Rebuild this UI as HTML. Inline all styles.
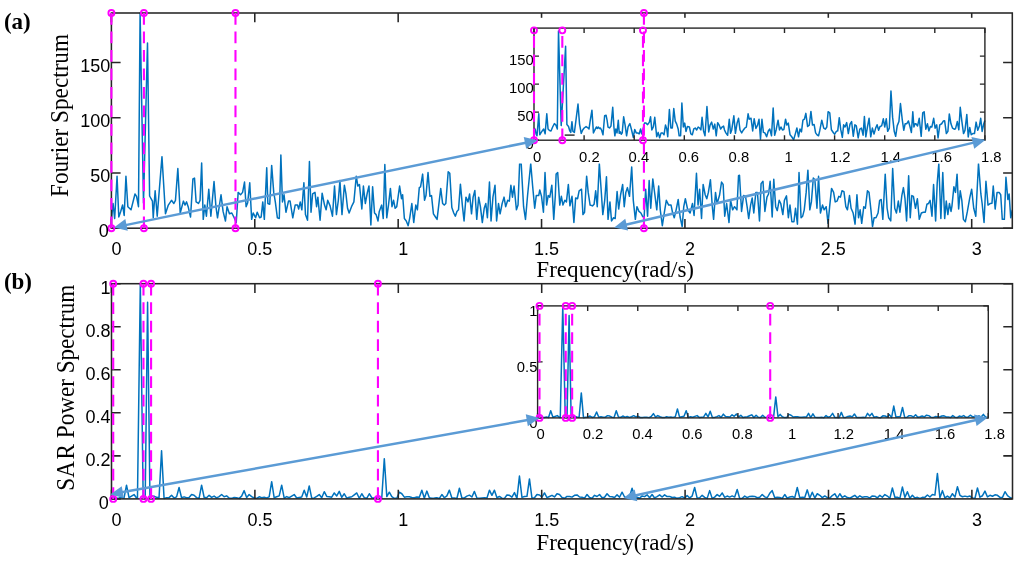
<!DOCTYPE html>
<html><head><meta charset="utf-8"><style>html,body{margin:0;padding:0;background:#fff;overflow:hidden}svg{display:block}</style></head><body>
<svg width="1025" height="567" viewBox="0 0 1025 567">
<rect width="1025" height="567" fill="#fff"/>
<polyline points="111.49,219.37 113.08,203.49 114.67,218.57 117.05,176.19 118.79,216.98 120.7,211.43 122.6,205.08 124.19,215.4 125.94,176.19 127.84,206.67 131.02,209.84 134.98,193.97 136.57,196.35 138.48,206.67 140.1,13 143.5,203 147.5,43 149.6,196 152.44,201.11 153.24,217.78 155.14,190.79 157.21,216.19 161.97,156.67 165.46,213.81 168.32,205.08 171.49,200.32 173.87,203.49 175.46,200.32 177.84,168.57 180.22,213.02 183.4,201.11 184.98,205.08 186.57,201.9 188.16,206.67 190.54,216.98 192.92,178.89 194.51,178.1 196.1,201.9 198.48,203.49 200.06,200.32 201.65,163.02 203.24,219.37 204.83,205.08 206.41,216.19 208.79,189.21 210.86,216.19 214.03,181.59 215.94,206.67 217.52,217.78 221.02,194.76 223.08,211.43 225.46,220.95 227.05,206.67 229.43,213.81 231.81,213.02 234.19,217.78 236.25,222.54 238.16,192.38 240.54,194.76 242.6,192.38 244.51,182.06 246.1,206.67 247.68,202.7 249.75,182.86 251.65,219.37 253.24,213.02 255.62,217.78 257.21,212.22 259.59,217.78 261.17,216.98 262.76,201.9 264.35,219.37 266.73,167.78 267.86,203.49 269.76,204.29 271.67,165.4 273.73,192.38 275.32,201.9 277.38,217.78 279.29,218.57 280.87,155.08 282.46,201.9 284.05,194.76 285.95,212.22 288.49,201.11 290.08,201.11 292.78,217.78 295.16,205.08 297.54,205.08 298.65,209.05 300.24,201.9 301.83,209.84 303.89,182.86 305.48,214.6 307.54,220.16 309.44,161.43 311.03,212.22 312.62,193.97 315,192.38 316.59,206.67 317.86,197.14 320.08,220.16 322.14,193.17 324.52,205.08 326.11,209.84 327.7,200.32 330.08,205.87 332.46,216.19 334.52,186.03 336.43,214.6 338.33,200.32 339.92,180.48 341.98,214.6 344.37,185.24 345.95,193.97 347.54,208.25 349.13,213.02 351.51,206.67 353.89,201.9 356.27,176.19 357.86,186.03 359.44,184.44 361.83,209.05 363.41,186.03 365.32,203.49 367.38,192.38 368.97,186.03 370.87,224.92 372.62,186.83 374.52,213.02 376.11,214.6 378.02,220.95 379.29,211.43 381.67,205.08 383.25,218.57 384.84,164.6 386.75,217.78 388.49,205.08 390.4,188.41 391.98,206.67 393.57,200.32 395.16,208.25 396.75,206.67 399.6,186.03 401.51,198.73 402.62,194.76 404.37,218.57 406.27,220.95 408.17,225.71 409.76,217.78 411.83,203.49 413.73,222.54 415.79,205.08 417.38,209.84 419.29,187.62 420.56,186.83 422.62,174.13 424.52,200.32 425.97,195.56 428.03,172.54 429.94,196.35 431.52,195.56 433.43,213.81 435.49,216.98 437.08,219.37 439.14,201.9 440.73,188.41 442.63,203.49 444.22,205.08 445.81,203.49 448.19,171.75 449.78,173.33 451.84,207.46 453.75,213.02 455.33,216.19 456.92,211.43 458.51,209.84 460.41,184.13 462.48,206.67 464.06,220.95 465.97,197.14 468.03,201.9 469.62,193.97 471.52,213.81 473.11,197.14 474.86,190.48 476.76,219.37 478.67,197.14 480.41,206.67 482.32,222.54 484.22,208.25 485.81,203.49 487.4,217.78 489.46,182.06 491.05,220.95 492.95,197.14 495.02,185.24 496.6,220.95 498.51,203.49 500.1,213.81 502.16,203.49 504.06,197.14 505.65,206.67 507.71,200.32 509.3,201.11 510.89,185.24 512.48,197.14 514.06,186.03 516.44,209.84 518.03,205.08 519.62,163.49 521.21,163.81 523.59,206.67 525.49,219.37 527.56,195.56 530.73,163.49 532.63,186.03 534.7,208.25 536.29,195.56 538.67,195.56 539.78,190 541.52,196.35 543.43,212.22 545.02,172.54 546.6,205.08 548.19,195.56 549.78,197.14 551.84,185.24 553.75,219.37 555.33,195.56 556.13,174.13 557.71,172.54 559.78,205.08 561.37,196.35 562.95,205.08 564.86,200.32 566.44,201.9 568.35,184.44 569.94,205.87 572,196.35 573.9,222.54 575.65,197.94 577.56,198.73 579.14,190.79 581.52,189.21 582.97,214.6 584.56,212.22 586.62,176.19 588.21,192.38 590.11,205.08 592.49,205.87 594.08,204.29 595.67,190.79 597.25,206.67 599.32,163.49 601.22,190.79 602.81,214.6 604.71,200.32 606.46,176.83 608.05,219.37 609.95,201.9 611.54,220.95 613.6,217.78 615.19,218.57 617.1,191.59 618.68,209.05 620.59,194.76 622.65,184.44 624.24,206.67 625.83,192.38 627.41,187.62 629.48,196.35 631.7,166.98 633.29,200.32 635.35,219.37 636.94,206.67 639,211.43 640.9,213.02 642.49,216.19 644.08,217.78 645.67,189.21 647.57,216.19 649.16,180.48 650.75,208.25 652.81,178.89 654.87,194.76 656.78,209.84 658.68,186.03 660.27,209.84 662.33,225.71 664.24,213.02 666.3,200.32 668.68,205.08 671.06,205.08 672.65,213.02 674.24,217.78 676.14,209.84 678.21,199.52 680.11,216.98 682.17,226.51 683.76,206.67 685.35,198.73 687.73,209.84 690.11,213.02 692.49,203.49 694.08,215.4 696.46,173.33 698.05,205.08 699.63,189.21 701.54,218.57 703.13,184.44 705.19,194.76 706.78,198.73 708.37,192.38 710.43,179.68 712.33,206.67 713.6,219.37 715.51,192.38 717.1,203.49 719.48,195.56 721.54,182.06 723.13,184.44 724.71,216.19 726.62,203.49 729,222.54 730.59,200.32 732.65,209.84 734.56,206.67 736.94,209.84 738.52,175.71 739.49,175.24 741.56,211.43 743.62,195.56 745.52,196.35 747.11,206.67 748.7,218.57 750.6,205.08 752.19,197.94 753.78,213.02 755.84,192.38 757.43,192.38 759.49,220.95 761.08,183.65 762.98,181.27 764.89,211.43 766.95,197.14 768.54,193.97 770.13,181.27 772.19,216.98 773.78,179.37 775.68,206.67 777.27,210.63 779.17,200.32 780.76,203.49 782.83,214.6 784.41,200.32 786.48,195.87 788.38,217.78 789.97,205.08 791.87,221.75 793.94,221.75 795.52,208.25 797.43,224.13 799.02,172.54 801.08,217.78 802.67,216.19 804.25,209.84 806.16,192.38 807.9,170.16 809.81,209.84 811.4,201.9 813.3,178.1 814.89,179.68 816.95,208.25 818.54,176.19 820.44,213.02 822.51,205.08 824.1,209.84 826.16,206.67 828.06,223.33 829.65,206.67 831.56,188.41 833.62,192.38 835.21,201.9 837.11,201.11 838.86,196.35 840.44,197.14 842.03,190.79 843.94,191.59 845.84,206.67 847.43,209.84 849.49,195.56 851.08,208.25 853.14,213.02 855.05,224.13 856.95,194.76 858.54,217.78 860.13,209.84 861.71,223.33 863.78,206.67 865.37,208.25 867.43,190.79 869.02,192.38 870.92,209.84 872.51,226.51 874.1,217.78 876,217.78 878.06,213.02 879.65,200.32 881.24,199.52 882.83,219.37 885.21,174.13 887.11,208.25 888.7,217.78 890.76,220.95 892.67,168.57 894.73,208.25 896.43,213.02 898.33,201.11 899.92,212.22 901.83,195.56 903.41,187.62 905,198.73 906.59,220.95 908.65,175.71 910.24,217.78 911.83,195.56 913.41,196.35 915.48,208.25 917.38,198.73 919.29,219.37 921.35,213.02 923.41,212.22 925.32,212.22 926.9,204.29 928.49,203.49 930.08,200.32 931.98,216.19 933.57,184.44 935.63,220.95 937.22,182.86 938.81,163.81 940.87,218.57 942.78,172.54 944.68,218.57 946.27,201.11 947.86,214.6 949.44,203.49 951.03,211.43 951.98,205.87 953.89,186.83 955.48,192.38 957.06,174.13 958.65,209.05 960.24,190.79 961.83,200.32 963.41,219.37 965.32,221.75 967.38,211.43 969.76,197.94 971.67,189.21 973.73,208.25 975.79,216.19 978.49,163.49 980.87,193.97 982.14,203.49 984.05,222.54 985.95,181.27 988.02,205.08 990.4,203.49 991.98,203.17 993.25,186.03 995.16,209.05 997.06,192.38 999.13,192.38 1000.71,194.76 1002.3,219.37 1004.37,219.37 1005.95,177.3 1007.86,199.52 1009.13,193.97 1010.71,217.78 1012.3,209.84" stroke="#0072BD" stroke-width="1.5" fill="none" stroke-linejoin="round"/>
<path d="M111.4 228.2V219M111.4 13V22.2M254.78 228.2V219M254.78 13V22.2M398.17 228.2V219M398.17 13V22.2M541.55 228.2V219M541.55 13V22.2M684.93 228.2V219M684.93 13V22.2M828.31 228.2V219M828.31 13V22.2M971.7 228.2V219M971.7 13V22.2M111.4 228.2H120.6M1012.3 228.2H1003.1M111.4 172.94H120.6M1012.3 172.94H1003.1M111.4 117.67H120.6M1012.3 117.67H1003.1M111.4 62.41H120.6M1012.3 62.41H1003.1" stroke="#262626" stroke-width="1.55" fill="none"/>
<rect x="111.4" y="13" width="900.9" height="215.2" stroke="#262626" stroke-width="1.55" fill="none"/>
<path d="M111.4 228.2V13" stroke="#FF00FF" stroke-width="2.1" stroke-dasharray="11.6 6.9" fill="none"/>
<circle cx="111.4" cy="13" r="3" stroke="#FF00FF" stroke-width="1.9" fill="none"/>
<circle cx="111.4" cy="228.2" r="3" stroke="#FF00FF" stroke-width="1.9" fill="none"/>
<path d="M143.92 228.2V13" stroke="#FF00FF" stroke-width="2.1" stroke-dasharray="11.6 6.9" fill="none"/>
<circle cx="143.92" cy="13" r="3" stroke="#FF00FF" stroke-width="1.9" fill="none"/>
<circle cx="143.92" cy="228.2" r="3" stroke="#FF00FF" stroke-width="1.9" fill="none"/>
<path d="M235.48 228.2V13" stroke="#FF00FF" stroke-width="2.1" stroke-dasharray="11.6 6.9" fill="none"/>
<circle cx="235.48" cy="13" r="3" stroke="#FF00FF" stroke-width="1.9" fill="none"/>
<circle cx="235.48" cy="228.2" r="3" stroke="#FF00FF" stroke-width="1.9" fill="none"/>
<text x="116.4" y="254.8" font-size="18" text-anchor="middle" font-family='"Liberation Sans", Arial, sans-serif' font-weight="normal" fill="#000">0</text>
<text x="259.78" y="254.8" font-size="18" text-anchor="middle" font-family='"Liberation Sans", Arial, sans-serif' font-weight="normal" fill="#000">0.5</text>
<text x="403.17" y="254.8" font-size="18" text-anchor="middle" font-family='"Liberation Sans", Arial, sans-serif' font-weight="normal" fill="#000">1</text>
<text x="546.55" y="254.8" font-size="18" text-anchor="middle" font-family='"Liberation Sans", Arial, sans-serif' font-weight="normal" fill="#000">1.5</text>
<text x="689.93" y="254.8" font-size="18" text-anchor="middle" font-family='"Liberation Sans", Arial, sans-serif' font-weight="normal" fill="#000">2</text>
<text x="833.31" y="254.8" font-size="18" text-anchor="middle" font-family='"Liberation Sans", Arial, sans-serif' font-weight="normal" fill="#000">2.5</text>
<text x="976.7" y="254.8" font-size="18" text-anchor="middle" font-family='"Liberation Sans", Arial, sans-serif' font-weight="normal" fill="#000">3</text>
<text x="108.7" y="237.3" font-size="18" text-anchor="end" font-family='"Liberation Sans", Arial, sans-serif' font-weight="normal" fill="#000">0</text>
<text x="110.4" y="182.04" font-size="18" text-anchor="end" font-family='"Liberation Sans", Arial, sans-serif' font-weight="normal" fill="#000">50</text>
<text x="110.4" y="126.77" font-size="18" text-anchor="end" font-family='"Liberation Sans", Arial, sans-serif' font-weight="normal" fill="#000">100</text>
<text x="110.4" y="71.51" font-size="18" text-anchor="end" font-family='"Liberation Sans", Arial, sans-serif' font-weight="normal" fill="#000">150</text>
<text x="615.2" y="276.5" font-size="23.1" text-anchor="middle" font-family='"Liberation Serif", "Times New Roman", serif' font-weight="normal" fill="#000">Frequency(rad/s)</text>
<text transform="translate(68.2 115.5) rotate(-90)" font-size="24.2" text-anchor="middle" textLength="163" lengthAdjust="spacingAndGlyphs" font-family='"Liberation Serif", "Times New Roman", serif' fill="#000">Fourier Spectrum</text>
<text x="3.9" y="28.6" font-size="23" font-family='"Liberation Serif", "Times New Roman", serif' font-weight="bold" fill="#000">(a)</text>
<rect x="505" y="17.8" width="493" height="145.7" fill="#fff"/>
<rect x="534" y="28.1" width="450.9" height="112.1" fill="#fff"/>
<path d="M564.7 135.1H574.6" stroke="#262626" stroke-width="1.4"/>
<polyline points="534.39,128 535.37,129.95 536.05,133.85 537.02,135.8 538.78,113.85 539.76,134.83 540.93,132.88 542.2,130.93 543.66,128.98 545.12,133.85 546.78,113.85 548.05,128.98 549.51,130.44 550.98,130.93 552.63,127.02 554.39,123.61 555.85,125.07 557.32,128.98 558.5,30.9 561.2,125.6 565.6,46.2 566.88,124.59 568.54,126.54 569.8,130.93 570.78,132.39 571.95,121.66 572.93,131.41 574.39,132.39 575.85,121.17 578,104.1 579.56,124.1 581.22,133.37 582.68,129.95 584.15,128 586.1,126.54 587.56,127.51 589.02,128.98 590.29,120.2 591.95,110.24 593.41,132.88 594.88,129.95 596.34,127.02 597.32,128.49 598.29,127.02 599.46,128.49 600.44,128 601.71,130.44 602.98,134.83 604.63,115.8 606.1,115.32 607.07,120.2 608.05,127.02 609.51,128 610.98,126.05 612.73,107.32 613.9,127.02 614.88,135.8 615.85,128.98 617.02,132.88 618.29,120.2 619.27,133.37 620.24,131.9 621.22,134.34 622.2,132.88 623.66,116.78 625.12,125.07 626.59,135.8 628.05,127.02 629.51,124.1 629.88,123.61 631.34,128.98 633.29,137.27 634.76,129.46 636.22,132.88 637.68,132.88 639.15,133.85 640.61,128.98 641.59,133.85 643.05,128.98 644.51,123.12 645.98,123.12 647.63,124.59 649.39,122.15 650.56,116.78 651.83,129.95 653.29,127.02 654.76,117.27 656.71,136.78 658.17,132.39 659.63,137.76 661.1,132.88 662.56,132.88 664.02,134.83 665.49,125.07 666.76,128.98 667.73,136.78 669.39,109.46 670.85,128 672.32,128 673.78,108.49 675.24,121.17 676.71,124.1 678.17,128.98 679.15,135.8 680.61,135.8 681.88,103.12 683.34,127.02 684.71,123.12 685.98,131.41 687.44,126.54 689.39,127.02 690.85,133.85 692.32,134.83 693.78,128.98 695.24,128 696.71,129.95 698.17,127.02 699.63,128 700.9,129.95 702.07,117.27 703.54,130.93 705,135.8 706.95,106.54 708.71,131.9 710.07,125.07 711.63,122.15 713.29,128.98 714.76,124.1 716.22,135.8 717.68,122.63 719.15,125.07 720.61,128.98 722.07,127.02 723.54,126.05 724.51,129.95 725.85,132.88 727.61,135.32 729.27,119.22 730.54,133.37 731.71,129.95 733.85,115.8 735.41,133.37 737.07,123.12 738.54,118.24 740,129.95 741.66,132.88 743.41,129.95 744.88,128 746.34,127.02 748.1,113.85 749.27,119.22 751.02,118.24 752.68,130.93 754.15,118.73 755.9,128.49 757.56,125.07 759.02,119.22 760.49,139.22 761.95,119.22 763.41,132.39 764.88,132.88 766.63,136.78 768.29,130.93 769.76,128.98 771.51,135.8 773.17,108 774.63,135.32 776.1,129.95 778.05,120.2 779.51,129.95 780.98,127.02 782.44,129.95 783.9,129.46 785.56,119.22 786.83,125.07 788.29,123.12 790.05,134.83 791.71,136.78 793.66,139.71 795.32,133.85 796.88,128 798.54,136.78 800,128.98 801.46,131.9 802.93,120.2 804.39,119.22 805.85,113.37 807.61,126.54 809.27,125.07 810.93,111.41 812.49,125.07 814.15,124.59 815.61,132.88 817.07,134.83 818.54,135.8 819.71,130.93 821.78,120.22 823.74,128.09 825.38,129.18 826.8,126.99 828.11,111.69 829.75,112.79 831.39,129.73 833.58,133.01 834.67,134.1 836.31,131.37 837.73,130.82 839.26,117.7 840.68,129.18 842.32,137.38 843.63,124.81 845.05,126.99 846.69,122.62 848.33,133.55 849.97,124.26 851.61,121.53 853.25,136.28 854.89,124.81 856.31,125.9 858.17,137.92 859.81,129.18 861.45,128.09 863.09,135.19 864.4,116.61 865.82,136.83 867.46,126.99 869.1,118.25 870.74,136.83 872.38,128.09 874.02,134.1 875.66,128.09 877.08,124.81 878.61,130.27 880.03,126.45 881.67,125.9 883.31,118.8 884.73,126.99 886.26,118.8 887.68,131.37 889.32,128.09 890.96,90.93 892.6,117.16 894.23,131.37 895.66,136.28 897.19,125.9 898.93,121.53 900.46,103.5 902.21,119.34 903.74,130.27 905.16,123.72 906.8,123.72 908.44,120.98 910.08,126.99 911.39,132.46 912.81,111.69 913.91,126.99 915,123.72 915.94,123.76 917.58,125.95 919.22,118.29 921.19,136.35 922.72,112.82 924.15,111.73 925.79,129.23 927.43,123.76 928.85,130.88 930.38,126.5 931.81,127.05 933.67,118.29 935.09,128.14 936.73,124.86 938.04,137.99 939.79,124.86 941.65,123.76 943.29,121.03 944.61,120.7 946.36,133.61 947.89,131.42 949.31,113.92 950.95,123.76 952.59,128.14 954.23,129.23 955.55,128.69 957.3,121.58 958.83,129.78 960.25,107.35 961.89,121.58 963.53,133.61 964.96,130.33 966.82,114.46 968.24,136.89 969.77,127.59 971.19,134.7 972.83,133.61 974.47,133.61 976.12,122.12 977.76,130.33 979.4,125.95 980.71,118.29 982.13,131.42 983.77,123.76 984.87,120.48" stroke="#0072BD" stroke-width="1.5" fill="none" stroke-linejoin="round"/>
<path d="M534 140.2V135.2M534 28.1V33.1M584.1 140.2V135.2M584.1 28.1V33.1M634.2 140.2V135.2M634.2 28.1V33.1M684.3 140.2V135.2M684.3 28.1V33.1M734.4 140.2V135.2M734.4 28.1V33.1M784.5 140.2V135.2M784.5 28.1V33.1M834.6 140.2V135.2M834.6 28.1V33.1M884.7 140.2V135.2M884.7 28.1V33.1M934.8 140.2V135.2M934.8 28.1V33.1M984.9 140.2V135.2M984.9 28.1V33.1M534 140.2H539M984.9 140.2H979.9M534 112.17H539M984.9 112.17H979.9M534 84.15H539M984.9 84.15H979.9M534 56.12H539M984.9 56.12H979.9" stroke="#262626" stroke-width="1.4" fill="none"/>
<rect x="534" y="28.1" width="450.9" height="112.1" stroke="#262626" stroke-width="1.4" fill="none"/>
<text x="537.1" y="161.7" font-size="14.8" text-anchor="middle" font-family='"Liberation Sans", Arial, sans-serif' font-weight="normal" fill="#000">0</text>
<text x="589.4" y="161.7" font-size="14.8" text-anchor="middle" font-family='"Liberation Sans", Arial, sans-serif' font-weight="normal" fill="#000">0.2</text>
<text x="638.9" y="161.7" font-size="14.8" text-anchor="middle" font-family='"Liberation Sans", Arial, sans-serif' font-weight="normal" fill="#000">0.4</text>
<text x="688.8" y="161.7" font-size="14.8" text-anchor="middle" font-family='"Liberation Sans", Arial, sans-serif' font-weight="normal" fill="#000">0.6</text>
<text x="738.9" y="161.7" font-size="14.8" text-anchor="middle" font-family='"Liberation Sans", Arial, sans-serif' font-weight="normal" fill="#000">0.8</text>
<text x="788.7" y="161.7" font-size="14.8" text-anchor="middle" font-family='"Liberation Sans", Arial, sans-serif' font-weight="normal" fill="#000">1</text>
<text x="840.2" y="161.7" font-size="14.8" text-anchor="middle" font-family='"Liberation Sans", Arial, sans-serif' font-weight="normal" fill="#000">1.2</text>
<text x="890.7" y="161.7" font-size="14.8" text-anchor="middle" font-family='"Liberation Sans", Arial, sans-serif' font-weight="normal" fill="#000">1.4</text>
<text x="941.6" y="161.7" font-size="14.8" text-anchor="middle" font-family='"Liberation Sans", Arial, sans-serif' font-weight="normal" fill="#000">1.6</text>
<text x="991.2" y="161.7" font-size="14.8" text-anchor="middle" font-family='"Liberation Sans", Arial, sans-serif' font-weight="normal" fill="#000">1.8</text>
<text x="533.8" y="148.7" font-size="14.8" text-anchor="end" font-family='"Liberation Sans", Arial, sans-serif' font-weight="normal" fill="#000">0</text>
<text x="533.8" y="120.67" font-size="14.8" text-anchor="end" font-family='"Liberation Sans", Arial, sans-serif' font-weight="normal" fill="#000">50</text>
<text x="533.8" y="92.65" font-size="14.8" text-anchor="end" font-family='"Liberation Sans", Arial, sans-serif' font-weight="normal" fill="#000">100</text>
<text x="533.8" y="64.62" font-size="14.8" text-anchor="end" font-family='"Liberation Sans", Arial, sans-serif' font-weight="normal" fill="#000">150</text>
<path d="M534 140.2V30.34" stroke="#FF00FF" stroke-width="2.1" stroke-dasharray="11.6 6.9" fill="none"/>
<circle cx="534" cy="30.34" r="3" stroke="#FF00FF" stroke-width="1.9" fill="none"/>
<circle cx="534" cy="140.2" r="3" stroke="#FF00FF" stroke-width="1.9" fill="none"/>
<path d="M562.31 140.2V30.34" stroke="#FF00FF" stroke-width="2.1" stroke-dasharray="11.6 6.9" fill="none"/>
<circle cx="562.31" cy="30.34" r="3" stroke="#FF00FF" stroke-width="1.9" fill="none"/>
<circle cx="562.31" cy="140.2" r="3" stroke="#FF00FF" stroke-width="1.9" fill="none"/>
<path d="M642.97 140.2V30.34" stroke="#FF00FF" stroke-width="2.1" stroke-dasharray="11.6 6.9" fill="none"/>
<circle cx="642.97" cy="30.34" r="3" stroke="#FF00FF" stroke-width="1.9" fill="none"/>
<circle cx="642.97" cy="140.2" r="3" stroke="#FF00FF" stroke-width="1.9" fill="none"/>
<path d="M643.92 228.2V13" stroke="#FF00FF" stroke-width="2.1" stroke-dasharray="11.6 6.9" fill="none"/>
<circle cx="643.92" cy="13" r="3" stroke="#FF00FF" stroke-width="1.9" fill="none"/>
<circle cx="643.92" cy="228.2" r="3" stroke="#FF00FF" stroke-width="1.9" fill="none"/>
<path d="M125.56 225.12L525.94 142.68" stroke="#5B9BD5" stroke-width="2.5" fill="none"/>
<path d="M114 227.5L127.75 230.8L125.33 219.04Z" fill="#5B9BD5"/>
<path d="M537.5 140.3L526.17 148.76L523.75 137Z" fill="#5B9BD5"/>
<path d="M625.68 224.79L973.82 142.61" stroke="#5B9BD5" stroke-width="2.5" fill="none"/>
<path d="M614.2 227.5L628.04 230.4L625.28 218.72Z" fill="#5B9BD5"/>
<path d="M985.3 139.9L974.22 148.68L971.46 137Z" fill="#5B9BD5"/>
<polyline points="111.5,498.14 114,497.65 116.51,498.18 119.01,498.06 121.51,497.27 124.01,498.19 126.52,485.16 129.02,497.65 131.52,496.09 134.03,494.53 136.53,497.96 137.46,498.04 140.32,283.7 143.19,498.25 145.2,498.47 147.58,302.21 149.93,498.04 151.54,496.29 154.05,496.22 156.55,497.32 159.05,497.65 161.56,450.82 164.06,498.41 166.56,497.8 169.06,497.64 171.57,495.31 174.07,497.96 176.57,496.87 179.07,487.5 181.58,497.75 184.08,496.87 186.58,497.67 189.09,497.51 191.59,494.53 194.09,495.31 196.59,497.65 199.1,498.15 201.6,485.16 204.1,497.23 206.61,497.8 209.11,495.31 211.61,497.43 214.11,496.09 216.62,497.92 219.12,496.55 221.62,494.53 224.12,496.78 226.63,495.87 229.13,498.05 231.63,498.33 234.14,497.41 236.64,497.83 239.14,498.39 241.64,496.09 244.15,490.63 246.65,497.61 249.15,494.53 251.66,496.61 254.16,498 256.66,498.32 259.16,496.79 261.67,497.65 264.17,497.34 266.67,497.89 269.17,496.84 271.68,481.73 274.18,497.78 276.68,496.81 279.19,495.85 281.69,485.16 284.19,498.16 286.69,496.61 289.2,497.72 291.7,496.02 294.2,494.53 296.71,498.01 299.21,497.52 301.71,497.02 304.21,490.16 306.72,497.05 309.22,485.94 311.72,498.15 314.23,497.91 316.73,496.41 319.23,494.53 321.73,497.8 324.24,491.72 326.74,496.44 329.24,496.81 331.74,497.24 334.25,492.97 336.75,495.92 339.25,491.41 341.76,497.38 344.26,493.75 346.76,498.23 349.26,497.15 351.77,496.78 354.27,494.84 356.77,492.97 359.28,498.28 361.78,493.75 364.28,497.63 366.78,498.31 369.29,493.75 371.79,497.62 374.29,497.93 376.79,497.12 379.3,498.43 381.8,497.33 384.3,458.63 386.81,496.58 389.31,492.19 391.81,496.69 394.31,498.3 396.82,498.28 399.32,492.19 401.82,493.75 404.32,497.14 406.83,496.84 409.33,496.83 411.83,497.45 414.34,497.65 416.84,497.01 419.34,497.36 421.84,490.16 424.35,498.29 426.85,491.09 429.35,497.73 431.86,498.24 434.36,498.11 436.86,497.73 439.36,498.47 441.87,494.53 444.37,497.74 446.87,495.87 449.38,490.16 451.88,497.92 454.38,497.99 456.88,498.45 459.39,488.28 461.89,498.04 464.39,497.97 466.89,496.09 469.4,495.16 471.9,497.02 474.4,491.41 476.91,497.96 479.41,498.16 481.91,497.91 484.41,497.62 486.92,498.11 489.42,490.16 491.92,495.33 494.43,490.16 496.93,497.75 499.43,496.4 501.93,498.18 504.44,498.39 506.94,494.95 509.44,495.31 511.94,497.17 514.45,492.66 516.95,498.38 519.45,476.11 521.96,497.36 524.46,496.54 526.96,496.27 529.46,478.92 531.97,498.03 534.47,497.66 536.97,494.53 539.47,495.01 541.98,497.06 544.48,492.97 546.98,497.59 549.49,496.54 551.99,495.31 554.49,496.93 556.99,493.75 559.5,494.53 562,497.44 564.5,498.29 567.01,496.4 569.51,496.49 572.01,497.12 574.51,495.31 577.02,494.92 579.52,496.99 582.02,497.29 584.53,498.13 587.03,494.53 589.53,497.56 592.03,498.18 594.54,495.31 597.04,496.5 599.54,494.53 602.04,497.68 604.55,497.23 607.05,493.75 609.55,496.57 612.06,496.83 614.56,497.51 617.06,494.84 619.56,497.26 622.07,492.19 624.57,497 627.07,497.48 629.57,496.42 632.08,488.28 634.58,496.45 637.08,497.19 639.59,498.24 642.09,495.92 644.59,496.65 647.09,494.84 649.6,497.69 652.1,494.53 654.6,497.94 657.11,496.54 659.61,494.84 662.11,497 664.61,494.84 667.12,496.59 669.62,496.4 672.12,497.51 674.62,497.15 677.13,498.32 679.63,497.65 682.13,496.63 684.64,498.13 687.14,495.5 689.64,497.97 692.14,496.08 694.65,487.5 697.15,498.06 699.65,497.68 702.16,495.31 704.66,497.39 707.16,498.37 709.66,490.63 712.17,498.39 714.67,497.13 717.17,494.53 719.68,496.39 722.18,492.97 724.68,497.33 727.18,496.05 729.69,497.07 732.19,495.94 734.69,497.09 737.19,489.53 739.7,498.45 742.2,498.22 744.7,496.09 747.21,497.71 749.71,496.4 752.21,496.16 754.71,496.4 757.22,497.78 759.72,497.18 762.22,494.53 764.73,496.84 767.23,497.75 769.73,493.28 772.23,490.63 774.74,497.7 777.24,497.17 779.74,497.45 782.24,498.46 784.75,494.53 787.25,498.26 789.75,496.95 792.26,496.45 794.76,497.64 797.26,487.5 799.76,497.74 802.27,497.3 804.77,497.47 807.27,489.85 809.77,498.32 812.28,492.19 814.78,498 817.28,493.75 819.79,495.31 822.29,497.64 824.79,495.96 827.29,497.53 829.8,498.11 832.3,495.59 834.8,493.75 837.31,498.09 839.81,493.75 842.31,497.46 844.81,495.78 847.32,497.61 849.82,498.05 852.32,496.75 854.82,495.31 857.33,497.89 859.83,495.78 862.33,497.31 864.84,496.78 867.34,496.87 869.84,497.86 872.34,495.96 874.85,496.2 877.35,497.86 879.85,495.34 882.36,497.27 884.86,494.53 887.36,496.03 889.86,498.31 892.37,487.97 894.87,497.3 897.37,497.3 899.88,498.35 902.38,487.04 904.88,497.4 907.38,491.72 909.89,498.22 912.39,495.31 914.89,498.01 917.39,497.32 919.9,498.34 922.4,497.37 924.9,497.38 927.41,495.03 929.91,497 932.41,494.53 934.91,495.12 937.42,473.46 939.92,497.85 942.42,490.63 944.93,497.92 947.43,496.09 949.93,497.8 952.43,493.75 954.94,497.14 957.44,486.72 959.94,495.31 962.44,496.76 964.95,496.13 967.45,496.66 969.95,496.09 972.46,498.09 974.96,498.23 977.46,487.97 979.96,497.21 982.47,495.73 984.97,491.09 987.47,496.93 989.98,495.31 992.48,496.27 994.98,494.84 997.48,495.31 999.99,497.42 1002.49,497.34 1004.99,491.72 1007.49,495.68 1010,497.5 1012.5,498.39" stroke="#0072BD" stroke-width="1.5" fill="none" stroke-linejoin="round"/>
<path d="M111.5 498.9V489.7M111.5 283.7V292.9M254.9 498.9V489.7M254.9 283.7V292.9M398.3 498.9V489.7M398.3 283.7V292.9M541.7 498.9V489.7M541.7 283.7V292.9M685.09 498.9V489.7M685.09 283.7V292.9M828.49 498.9V489.7M828.49 283.7V292.9M971.89 498.9V489.7M971.89 283.7V292.9M111.5 498.9H120.7M1012.5 498.9H1003.3M111.5 455.86H120.7M1012.5 455.86H1003.3M111.5 412.82H120.7M1012.5 412.82H1003.3M111.5 369.78H120.7M1012.5 369.78H1003.3M111.5 326.74H120.7M1012.5 326.74H1003.3M111.5 283.7H120.7M1012.5 283.7H1003.3" stroke="#262626" stroke-width="1.55" fill="none"/>
<rect x="111.5" y="283.7" width="901" height="215.2" stroke="#262626" stroke-width="1.55" fill="none"/>
<path d="M113.22 498.9V283.7" stroke="#FF00FF" stroke-width="2.1" stroke-dasharray="11.6 6.9" fill="none"/>
<circle cx="113.22" cy="283.7" r="3" stroke="#FF00FF" stroke-width="1.9" fill="none"/>
<circle cx="113.22" cy="498.9" r="3" stroke="#FF00FF" stroke-width="1.9" fill="none"/>
<path d="M143.48 498.9V283.7" stroke="#FF00FF" stroke-width="2.1" stroke-dasharray="11.6 6.9" fill="none"/>
<circle cx="143.48" cy="283.7" r="3" stroke="#FF00FF" stroke-width="1.9" fill="none"/>
<circle cx="143.48" cy="498.9" r="3" stroke="#FF00FF" stroke-width="1.9" fill="none"/>
<path d="M151.08 498.9V283.7" stroke="#FF00FF" stroke-width="2.1" stroke-dasharray="11.6 6.9" fill="none"/>
<circle cx="151.08" cy="283.7" r="3" stroke="#FF00FF" stroke-width="1.9" fill="none"/>
<circle cx="151.08" cy="498.9" r="3" stroke="#FF00FF" stroke-width="1.9" fill="none"/>
<path d="M377.93 498.9V283.7" stroke="#FF00FF" stroke-width="2.1" stroke-dasharray="11.6 6.9" fill="none"/>
<circle cx="377.93" cy="283.7" r="3" stroke="#FF00FF" stroke-width="1.9" fill="none"/>
<circle cx="377.93" cy="498.9" r="3" stroke="#FF00FF" stroke-width="1.9" fill="none"/>
<text x="116.5" y="525.5" font-size="18" text-anchor="middle" font-family='"Liberation Sans", Arial, sans-serif' font-weight="normal" fill="#000">0</text>
<text x="259.9" y="525.5" font-size="18" text-anchor="middle" font-family='"Liberation Sans", Arial, sans-serif' font-weight="normal" fill="#000">0.5</text>
<text x="403.3" y="525.5" font-size="18" text-anchor="middle" font-family='"Liberation Sans", Arial, sans-serif' font-weight="normal" fill="#000">1</text>
<text x="546.7" y="525.5" font-size="18" text-anchor="middle" font-family='"Liberation Sans", Arial, sans-serif' font-weight="normal" fill="#000">1.5</text>
<text x="690.09" y="525.5" font-size="18" text-anchor="middle" font-family='"Liberation Sans", Arial, sans-serif' font-weight="normal" fill="#000">2</text>
<text x="833.49" y="525.5" font-size="18" text-anchor="middle" font-family='"Liberation Sans", Arial, sans-serif' font-weight="normal" fill="#000">2.5</text>
<text x="976.89" y="525.5" font-size="18" text-anchor="middle" font-family='"Liberation Sans", Arial, sans-serif' font-weight="normal" fill="#000">3</text>
<text x="108.8" y="508.7" font-size="18" text-anchor="end" font-family='"Liberation Sans", Arial, sans-serif' font-weight="normal" fill="#000">0</text>
<text x="110.5" y="465.66" font-size="18" text-anchor="end" font-family='"Liberation Sans", Arial, sans-serif' font-weight="normal" fill="#000">0.2</text>
<text x="110.5" y="422.62" font-size="18" text-anchor="end" font-family='"Liberation Sans", Arial, sans-serif' font-weight="normal" fill="#000">0.4</text>
<text x="110.5" y="379.58" font-size="18" text-anchor="end" font-family='"Liberation Sans", Arial, sans-serif' font-weight="normal" fill="#000">0.6</text>
<text x="110.5" y="336.54" font-size="18" text-anchor="end" font-family='"Liberation Sans", Arial, sans-serif' font-weight="normal" fill="#000">0.8</text>
<text x="110.5" y="293.5" font-size="18" text-anchor="end" font-family='"Liberation Sans", Arial, sans-serif' font-weight="normal" fill="#000">1</text>
<text x="615.2" y="549.5" font-size="23.1" text-anchor="middle" font-family='"Liberation Serif", "Times New Roman", serif' font-weight="normal" fill="#000">Frequency(rad/s)</text>
<text transform="translate(73.5 387.7) rotate(-90)" font-size="24.2" text-anchor="middle" textLength="206" lengthAdjust="spacingAndGlyphs" font-family='"Liberation Serif", "Times New Roman", serif' fill="#000">SA<tspan dx="1.8">R</tspan> Power Spectrum</text>
<text x="3.9" y="289" font-size="23" font-family='"Liberation Serif", "Times New Roman", serif' font-weight="bold" fill="#000">(b)</text>
<rect x="537.6" y="305.9" width="450.7" height="112" fill="#fff"/>
<polyline points="537.6,417.5 539.79,417.25 541.97,417.52 544.16,417.46 546.34,417.05 548.53,417.53 550.71,410.75 552.9,417.25 555.08,416.44 557.27,415.63 559.45,417.41 560.26,417.45 562.76,305.9 565.27,417.56 567.02,417.68 569.1,315.53 571.15,417.45 572.56,416.54 574.75,416.5 576.93,417.08 579.12,417.25 581.3,392.88 583.49,417.65 585.67,417.33 587.86,417.24 590.04,416.03 592.23,417.41 594.41,416.84 596.6,411.97 598.78,417.3 600.97,416.84 603.15,417.26 605.34,417.18 607.52,415.63 609.71,416.03 611.89,417.25 614.08,417.51 616.26,410.75 618.45,417.03 620.63,417.33 622.82,416.03 625,417.13 627.19,416.44 629.37,417.39 631.56,416.67 633.74,415.63 635.93,416.8 638.11,416.32 640.3,417.46 642.48,417.6 644.67,417.13 646.85,417.34 649.04,417.63 651.22,416.44 653.41,413.59 655.59,417.23 657.78,415.63 659.96,416.71 662.15,417.43 664.33,417.6 666.52,416.8 668.7,417.25 670.89,417.09 673.07,417.37 675.26,416.83 677.44,408.96 679.63,417.32 681.81,416.81 684,416.31 686.18,410.75 688.37,417.52 690.55,416.71 692.74,417.29 694.92,416.4 697.11,415.63 699.29,417.44 701.48,417.18 703.66,416.92 705.85,413.35 708.03,416.94 710.22,411.16 712.4,417.51 714.59,417.38 716.77,416.6 718.96,415.63 721.14,417.33 723.33,414.16 725.51,416.62 727.7,416.81 729.88,417.03 732.07,414.81 734.25,416.35 736.44,414 738.63,417.11 740.81,415.22 743,417.55 745.18,416.99 747.37,416.79 749.55,415.79 751.74,414.81 753.92,417.58 756.11,415.22 758.29,417.24 760.48,417.6 762.66,415.22 764.85,417.23 767.03,417.4 769.22,416.98 771.4,417.66 773.59,417.08 775.77,396.94 777.96,416.69 780.14,414.41 782.33,416.75 784.51,417.59 786.7,417.58 788.88,414.41 791.07,415.22 793.25,416.99 795.44,416.83 797.62,416.82 799.81,417.15 801.99,417.25 804.18,416.92 806.36,417.1 808.55,413.35 810.73,417.58 812.92,413.84 815.1,417.29 817.29,417.56 819.47,417.49 821.66,417.29 823.84,417.68 826.03,415.63 828.21,417.3 830.4,416.32 832.58,413.35 834.77,417.39 836.95,417.43 839.14,417.67 841.32,412.38 843.51,417.45 845.69,417.42 847.88,416.44 850.06,415.95 852.25,416.92 854.43,414 856.62,417.41 858.8,417.52 860.99,417.39 863.17,417.24 865.36,417.49 867.54,413.35 869.73,416.04 871.91,413.35 874.1,417.3 876.28,416.6 878.47,417.52 880.65,417.63 882.84,415.84 885.02,416.03 887.21,417 889.39,414.65 891.58,417.63 893.76,406.04 895.95,417.1 898.13,416.67 900.32,416.53 902.5,407.5 904.69,417.45 906.87,417.26 909.06,415.63 911.24,415.87 913.43,416.94 915.61,414.81 917.8,417.22 919.98,416.67 922.17,416.03 924.35,416.87 926.54,415.22 928.72,415.63 930.91,417.14 933.1,417.58 935.28,416.6 937.47,416.65 939.65,416.97 941.84,416.03 944.02,415.83 946.21,416.91 948.39,417.06 950.58,417.5 952.76,415.63 954.95,417.2 957.13,417.53 959.32,416.03 961.5,416.65 963.69,415.63 965.87,417.26 968.06,417.03 970.24,415.22 972.43,416.69 974.61,416.82 976.8,417.17 978.98,415.79 981.17,417.05 983.35,414.41 985.54,416.91 987.72,417.16" stroke="#0072BD" stroke-width="1.5" fill="none" stroke-linejoin="round"/>
<path d="M537.6 417.9V412.9M537.6 305.9V310.9M587.68 417.9V412.9M587.68 305.9V310.9M637.76 417.9V412.9M637.76 305.9V310.9M687.83 417.9V412.9M687.83 305.9V310.9M737.91 417.9V412.9M737.91 305.9V310.9M787.99 417.9V412.9M787.99 305.9V310.9M838.07 417.9V412.9M838.07 305.9V310.9M888.14 417.9V412.9M888.14 305.9V310.9M938.22 417.9V412.9M938.22 305.9V310.9M988.3 417.9V412.9M988.3 305.9V310.9M537.6 417.9H542.6M988.3 417.9H983.3M537.6 361.9H542.6M988.3 361.9H983.3M537.6 305.9H542.6M988.3 305.9H983.3" stroke="#262626" stroke-width="1.4" fill="none"/>
<rect x="537.6" y="305.9" width="450.7" height="112" stroke="#262626" stroke-width="1.4" fill="none"/>
<text x="540.7" y="439.4" font-size="14.8" text-anchor="middle" font-family='"Liberation Sans", Arial, sans-serif' font-weight="normal" fill="#000">0</text>
<text x="592.98" y="439.4" font-size="14.8" text-anchor="middle" font-family='"Liberation Sans", Arial, sans-serif' font-weight="normal" fill="#000">0.2</text>
<text x="642.46" y="439.4" font-size="14.8" text-anchor="middle" font-family='"Liberation Sans", Arial, sans-serif' font-weight="normal" fill="#000">0.4</text>
<text x="692.33" y="439.4" font-size="14.8" text-anchor="middle" font-family='"Liberation Sans", Arial, sans-serif' font-weight="normal" fill="#000">0.6</text>
<text x="742.41" y="439.4" font-size="14.8" text-anchor="middle" font-family='"Liberation Sans", Arial, sans-serif' font-weight="normal" fill="#000">0.8</text>
<text x="792.19" y="439.4" font-size="14.8" text-anchor="middle" font-family='"Liberation Sans", Arial, sans-serif' font-weight="normal" fill="#000">1</text>
<text x="843.67" y="439.4" font-size="14.8" text-anchor="middle" font-family='"Liberation Sans", Arial, sans-serif' font-weight="normal" fill="#000">1.2</text>
<text x="894.14" y="439.4" font-size="14.8" text-anchor="middle" font-family='"Liberation Sans", Arial, sans-serif' font-weight="normal" fill="#000">1.4</text>
<text x="945.02" y="439.4" font-size="14.8" text-anchor="middle" font-family='"Liberation Sans", Arial, sans-serif' font-weight="normal" fill="#000">1.6</text>
<text x="994.6" y="439.4" font-size="14.8" text-anchor="middle" font-family='"Liberation Sans", Arial, sans-serif' font-weight="normal" fill="#000">1.8</text>
<text x="537.4" y="428" font-size="14.8" text-anchor="end" font-family='"Liberation Sans", Arial, sans-serif' font-weight="normal" fill="#000">0</text>
<text x="537.4" y="372" font-size="14.8" text-anchor="end" font-family='"Liberation Sans", Arial, sans-serif' font-weight="normal" fill="#000">0.5</text>
<text x="537.4" y="316" font-size="14.8" text-anchor="end" font-family='"Liberation Sans", Arial, sans-serif' font-weight="normal" fill="#000">1</text>
<path d="M539.5 417.9V305.9" stroke="#FF00FF" stroke-width="2.1" stroke-dasharray="11.6 6.9" fill="none"/>
<circle cx="539.5" cy="305.9" r="3" stroke="#FF00FF" stroke-width="1.9" fill="none"/>
<circle cx="539.5" cy="417.9" r="3" stroke="#FF00FF" stroke-width="1.9" fill="none"/>
<path d="M565.74 417.9V305.9" stroke="#FF00FF" stroke-width="2.1" stroke-dasharray="11.6 6.9" fill="none"/>
<circle cx="565.74" cy="305.9" r="3" stroke="#FF00FF" stroke-width="1.9" fill="none"/>
<circle cx="565.74" cy="417.9" r="3" stroke="#FF00FF" stroke-width="1.9" fill="none"/>
<path d="M572.15 417.9V305.9" stroke="#FF00FF" stroke-width="2.1" stroke-dasharray="11.6 6.9" fill="none"/>
<circle cx="572.15" cy="305.9" r="3" stroke="#FF00FF" stroke-width="1.9" fill="none"/>
<circle cx="572.15" cy="417.9" r="3" stroke="#FF00FF" stroke-width="1.9" fill="none"/>
<path d="M770.21 417.9V305.9" stroke="#FF00FF" stroke-width="2.1" stroke-dasharray="11.6 6.9" fill="none"/>
<circle cx="770.21" cy="305.9" r="3" stroke="#FF00FF" stroke-width="1.9" fill="none"/>
<circle cx="770.21" cy="417.9" r="3" stroke="#FF00FF" stroke-width="1.9" fill="none"/>
<path d="M121.82 492.33L527.78 420.07" stroke="#5B9BD5" stroke-width="2.5" fill="none"/>
<path d="M110.2 494.4L123.85 498.06L121.75 486.25Z" fill="#5B9BD5"/>
<path d="M539.4 418L527.85 426.15L525.75 414.34Z" fill="#5B9BD5"/>
<path d="M635.02 495.55L976.28 420.05" stroke="#5B9BD5" stroke-width="2.5" fill="none"/>
<path d="M623.5 498.1L637.29 501.19L634.7 489.48Z" fill="#5B9BD5"/>
<path d="M987.8 417.5L976.6 426.12L974.01 414.41Z" fill="#5B9BD5"/>
</svg>
</body></html>
